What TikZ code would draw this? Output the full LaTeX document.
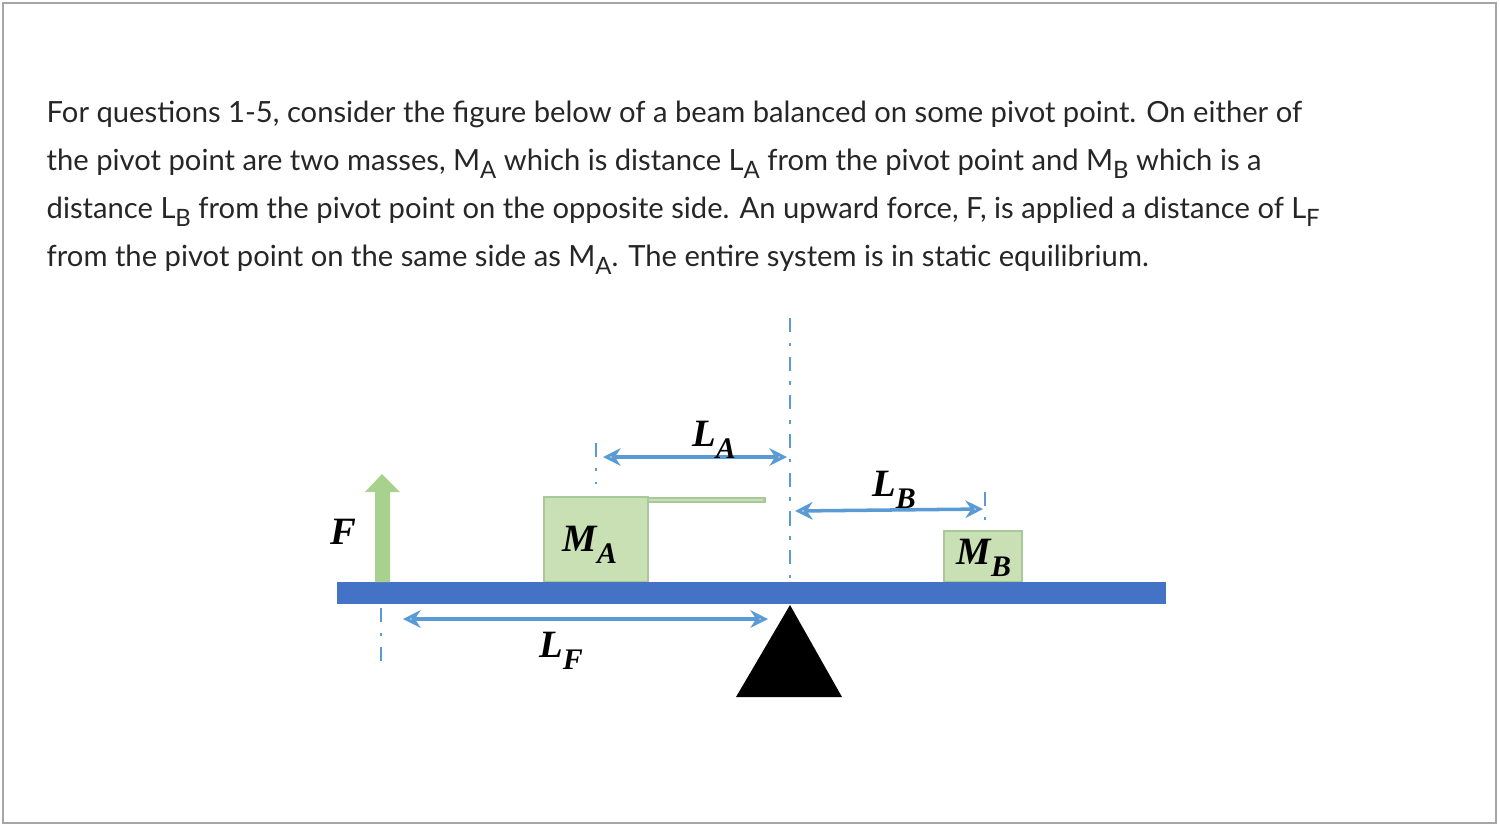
\documentclass[tikz,border=0pt]{standalone}
\usepackage{fontspec}
\setmainfont{Lato}
\newfontfamily\lblfont{Liberation Serif}
\usetikzlibrary{arrows.meta}
\definecolor{beam}{HTML}{4472C4}
\definecolor{grn}{HTML}{A9D18E}
\definecolor{boxf}{HTML}{C8E0B4}
\definecolor{boxd}{HTML}{A9C99A}
\definecolor{dim}{HTML}{5B9BD5}
\newcommand{\sbs}[1]{\raisebox{-0.3em}{\fontsize{6.8pt}{7pt}\selectfont #1}}
\newcommand{\lsub}[1]{\raisebox{-0.3em}{\fontsize{8.5pt}{9pt}\selectfont #1}}
\tikzset{
  txt/.style={anchor=base west,inner sep=0pt,font=\fontsize{8.3pt}{10pt}\selectfont,text=black!85},
  lbl/.style={inner sep=0pt,font=\lblfont\bfseries\itshape\fontsize{11pt}{12pt}\selectfont},
  dimline/.style={dim,line width=1pt,{Stealth[length=5pt,width=5pt,open]}-{Stealth[length=5pt,width=5pt,open]}},
  ctr/.style={dim,line width=0.8pt,dash pattern=on 4pt off 3pt on 1pt off 3pt},
  massbox/.style={fill=boxf,draw=boxd,line width=0.6pt}
}
\begin{document}
\begin{tikzpicture}[x=0.01cm,y=-0.01cm]
\useasboundingbox (0,0) rectangle (1500,826);
\draw[black!35,line width=0.8pt] (3,3) rectangle (1496,823);
\node[txt] (t1) at (46,122) {For questions 1-5, consider the figure below of a beam balanced on some pivot point. On either of};
\node[txt] (t2) at (46,170) {the pivot point are two masses, M\sbs{A} which is distance L\sbs{A} from the pivot point and M\sbs{B} which is a};
\node[txt] (t3) at (46,218) {distance L\sbs{B} from the pivot point on the opposite side. An upward force, F, is applied a distance of L\sbs{F}};
\node[txt] (t4) at (46,266) {from the pivot point on the same side as M\sbs{A}. The entire system is in static equilibrium.};
% center line
\coordinate (c1) at (790,318); \coordinate (c2) at (790,580);
\draw[ctr] (c1) -- (c2);
\coordinate (a1) at (596,443); \coordinate (a2) at (596,484);
\draw[ctr] (a1) -- (a2);
\coordinate (b1) at (985,492); \coordinate (b2) at (985,522);
\draw[ctr] (b1) -- (b2);
\coordinate (f1) at (381,608); \coordinate (f2) at (381,662);
\draw[ctr] (f1) -- (f2);
% masses
\node[massbox,minimum width=104\pgflinewidth,inner sep=0pt,anchor=north west] (MA) at (544,497) {};
\fill[boxf,draw=boxd,line width=0.6pt] (544,497) rectangle (648,582);
\fill[boxf,draw=boxd,line width=0.6pt] (944,531) rectangle (1022,582);
% beam
\fill[beam] (337,582) rectangle (1166,604);
% pivot
\fill[black] (790,605) -- (842,697) -- (736,697) -- cycle;
% force arrow
\fill[grn] (375,582) -- (375,492) -- (365,492) -- (382,474) -- (400,492) -- (390,492) -- (390,582) -- cycle;
% dims
\coordinate (la1) at (603,457); \coordinate (la2) at (787,457);
\draw[dimline] (la1) -- (la2);
\coordinate (lb1) at (795,511); \coordinate (lb2) at (983,509);
\draw[dimline] (lb1) -- (lb2);
\coordinate (lf1) at (403,619); \coordinate (lf2) at (768,619);
\draw[dimline] (lf1) -- (lf2);
% labels
\node[lbl] (LA) at (714,440) {L\lsub{A}};
\node[lbl] (LB) at (894,490) {L\lsub{B}};
\node[lbl] (LF) at (561,651) {L\lsub{F}};
\node[lbl] (F) at (343,532) {F};
\node[lbl] (MAl) at (590,545) {M\lsub{A}};
\node[lbl] (MBl) at (984,558) {M\lsub{B}};
\end{tikzpicture}
\end{document}
